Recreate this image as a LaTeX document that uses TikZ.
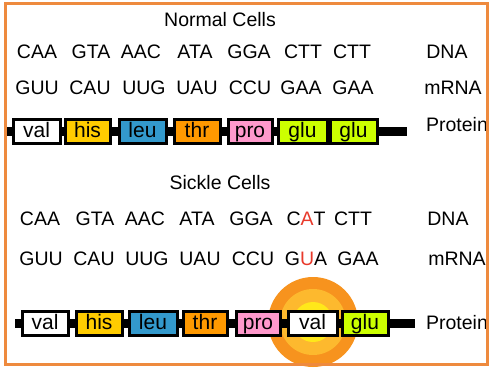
\documentclass[tikz,border=0pt]{standalone}
\usepackage{fontspec}
\setmainfont{Liberation Sans}
\definecolor{frameorange}{HTML}{EE8A3E}
\definecolor{hisgold}{HTML}{FFCC00}
\definecolor{leublue}{HTML}{3399CC}
\definecolor{throrange}{HTML}{FF9900}
\definecolor{propink}{HTML}{FF99CC}
\definecolor{glulime}{HTML}{CCFF00}
\definecolor{mutred}{HTML}{E8392B}
\definecolor{glowouter}{HTML}{F7931E}
\definecolor{glowmid}{HTML}{FDB92E}
\definecolor{glowinner}{HTML}{FFE81A}
\tikzset{
    base/.style = {font=\fontsize{19.5}{20}\selectfont, inner sep=0pt},
    amino/.style = {base, font=\fontsize{21}{22}\selectfont, draw, line width=3pt, minimum height=24pt, text depth=2pt, text height=15pt},
    backbone/.style = {line width=9pt}
}

\begin{document}
\begin{tikzpicture}[x=1pt, y=-1pt]
        \useasboundingbox (0,0) rectangle (495,369);

        % normal cells
        \node[base] (normtitle) at (220, 20) {Normal Cells};

        \node[base] (nd1) at (37, 52) {CAA};
        \node[base] (nd2) at (91, 52) {GTA};
        \node[base] (nd3) at (141, 52) {AAC};
        \node[base] (nd4) at (195, 52) {ATA};
        \node[base] (nd5) at (249, 52) {GGA};
        \node[base] (nd6) at (303, 52) {CTT};
        \node[base] (nd7) at (352, 52) {CTT};
        \node[base] (ndna) at (447, 52) {DNA};

        \node[base] (nm1) at (37, 88) {GUU};
        \node[base] (nm2) at (90, 88) {CAU};
        \node[base] (nm3) at (144, 88) {UUG};
        \node[base] (nm4) at (197, 88) {UAU};
        \node[base] (nm5) at (250, 88) {CCU};
        \node[base] (nm6) at (301, 88) {GAA};
        \node[base] (nm7) at (353, 88) {GAA};
        \node[base] (nmrna) at (453, 88) {mRNA};

        \coordinate (nstart) at (7, 131);
        \coordinate (nend) at (407, 131);
        \draw[backbone] (nstart) -- (nend);

        \node[amino, fill=white, minimum width=47pt] (na1) at (36.5, 131) {val};
        \node[amino, fill=hisgold, minimum width=45pt] (na2) at (87.5, 131) {his};
        \node[amino, fill=leublue, minimum width=47pt] (na3) at (142.5, 131) {leu};
        \node[amino, fill=throrange, minimum width=46pt] (na4) at (197, 131) {thr};
        \node[amino, fill=propink, minimum width=44pt] (na5) at (250, 131) {pro};
        \node[amino, fill=glulime, minimum width=49pt] (na6) at (302.5, 131) {glu};
        \node[amino, fill=glulime, minimum width=47pt] (na7) at (353.5, 131) {glu};
        \node[base] (nprot) at (457, 125) {Protein};

        % sickle cells
        \node[base] (sicktitle) at (220, 183) {Sickle Cells};

        \node[base] (sd1) at (40, 219) {CAA};
        \node[base] (sd2) at (95, 219) {GTA};
        \node[base] (sd3) at (145, 219) {AAC};
        \node[base] (sd4) at (197, 219) {ATA};
        \node[base] (sd5) at (251, 219) {GGA};
        \node[base] (sd6) at (306, 219) {C\textcolor{mutred}{A}T};
        \node[base] (sd7) at (353, 219) {CTT};
        \node[base] (sdna) at (448, 219) {DNA};

        \node[base] (sm1) at (41, 259) {GUU};
        \node[base] (sm2) at (94, 259) {CAU};
        \node[base] (sm3) at (147, 259) {UUG};
        \node[base] (sm4) at (200, 259) {UAU};
        \node[base] (sm5) at (253, 259) {CCU};
        \node[base] (sm6) at (306, 259) {G\textcolor{mutred}{U}A};
        \node[base] (sm7) at (358, 259) {GAA};
        \node[base] (smrna) at (457, 259) {mRNA};

        \fill[glowouter] (313, 322) circle (45);
        \fill[glowmid] (313, 322) circle (33);
        \fill[glowinner] (313, 322) circle (20);

        \coordinate (sstart) at (15, 323);
        \coordinate (send) at (415, 323);
        \draw[backbone] (sstart) -- (send);

        \node[amino, fill=white, minimum width=46pt] (sa1) at (45, 323) {val};
        \node[amino, fill=hisgold, minimum width=46pt] (sa2) at (99, 323) {his};
        \node[amino, fill=leublue, minimum width=48pt] (sa3) at (153, 323) {leu};
        \node[amino, fill=throrange, minimum width=44pt] (sa4) at (205, 323) {thr};
        \node[amino, fill=propink, minimum width=44pt] (sa5) at (258, 323) {pro};
        \node[amino, fill=white, minimum width=49pt] (sa6) at (312.5, 323) {val};
        \node[amino, fill=glulime, minimum width=46pt] (sa7) at (365, 323) {glu};
        \node[base] (sprot) at (457, 323) {Protein};

        \draw[frameorange, line width=3pt] (5, 4) rectangle (487, 364);
    \end{tikzpicture}
\end{document}
